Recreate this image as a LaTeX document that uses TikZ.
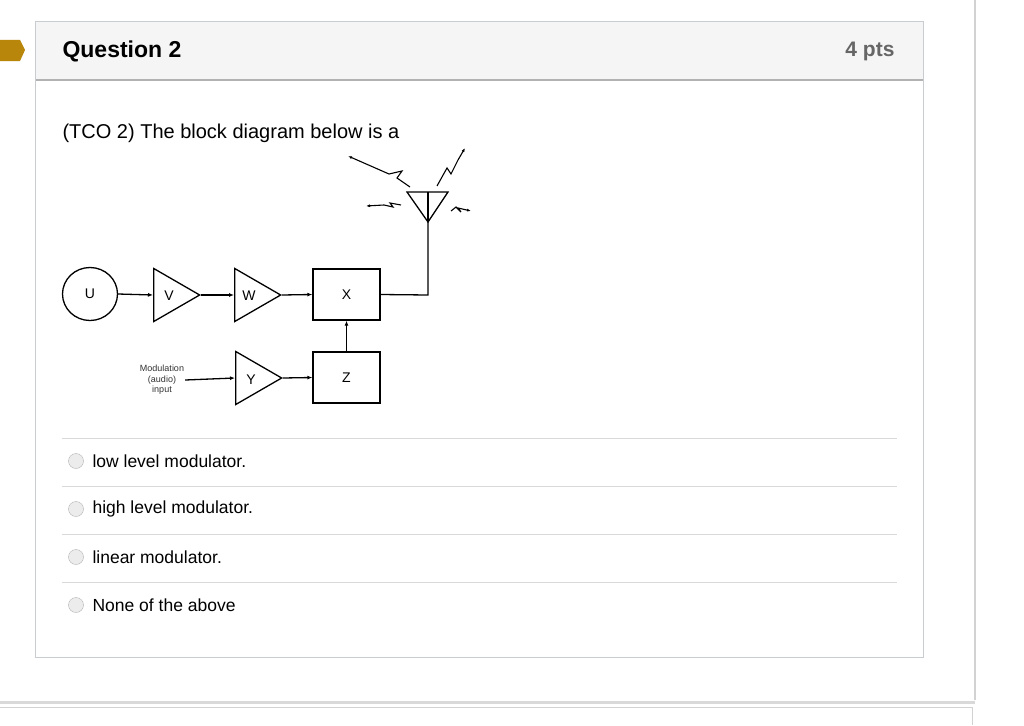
\documentclass[tikz,border=0pt]{standalone}
\usepackage{fontspec}
\setmainfont{Liberation Sans}
\usetikzlibrary{arrows.meta,shapes.geometric}
\definecolor{hdr}{HTML}{F5F5F5}
\definecolor{bord}{HTML}{C7CDD1}
\definecolor{gold}{HTML}{B8860B}
\begin{document}
\begin{tikzpicture}[x=1pt,y=-1pt,
  tri/.style={isosceles triangle,isosceles triangle apex angle=60,draw,line width=1.3pt,minimum height=46pt,inner sep=0pt},
  lbl/.style={font=\fontsize{14}{14}\selectfont,inner sep=0pt},
  box/.style={draw,line width=1.3pt,minimum width=67pt,minimum height=51pt,font=\fontsize{14}{14}\selectfont},
  con/.style={line width=1.3pt,-{Latex[length=5pt,width=4pt]}},
  radio/.style={circle,draw=gray!60,fill=gray!15,minimum size=15pt,inner sep=0pt},
  opt/.style={anchor=west,font=\fontsize{17.5}{19}\selectfont},
  sep/.style={draw=gray!30,line width=0.8pt},
  zz/.style={line width=1.1pt,-{Latex[length=4pt,width=3pt]}}]
\useasboundingbox (0,0) rectangle (1024,725);
\fill[white] (0,0) rectangle (1024,725);
% outer card
\draw[gray!35,line width=2pt] (975,0) -- (975,700);
\draw[gray!30,line width=3pt] (0,702) -- (975,702);
\draw[gray!35,line width=1pt] (0,707) -- (972,707) -- (972,725);
% question box
\fill[hdr] (35.5,22.5) rectangle (922.5,79);
\draw[gray!60,line width=1.2pt] (35,80) -- (923,80);
\draw[bord,line width=1pt] (35,22) rectangle (923,657);
\fill[gold] (0,40) -- (20,40) -- (25,50) -- (20,61) -- (0,61) -- cycle;
\node[anchor=west,font=\bfseries\fontsize{23}{25}\selectfont] (qt) at (59,51) {Question 2};
\node[anchor=east,text=gray!80!black,font=\bfseries\fontsize{21}{23}\selectfont] (pts) at (898,51) {4 pts};
\node[anchor=west,font=\fontsize{20}{22}\selectfont] (q) at (59,133) {(TCO 2) The block diagram below is a};
% diagram
\node[ellipse,draw,line width=1.3pt,minimum width=55pt,minimum height=53pt,font=\fontsize{14}{14}\selectfont] (U) at (90,294) {U};
\node[tri,anchor=west] (V) at (153,295) {};
\node[tri,anchor=west] (W) at (234,295) {};
\node[box] (X) at (346.5,294.5) {X};
\node[box] (Z) at (346.5,377.5) {Z};
\node[tri,anchor=west] (Y) at (235,378) {};
\node[lbl] (Vl) at (169,296) {V};
\node[lbl] (Wl) at (249,296) {W};
\node[lbl] (Yl) at (251,380) {Y};
\node[align=center,font=\fontsize{9}{10.5}\selectfont,text=black!80,inner sep=1pt] (M) at (162,380) {Modulation\\(audio)\\input};
\draw[con] (U.east) -- (V.west);
\draw[con] (V.apex) -- (W.west);
\draw[con] (W.apex) -- (X.west);
\draw[con] (Z.north) -- (X.south);
\draw[con] (Y.apex) -- (Z.west);
\draw[con] (M.east) -- (Y.west);
% antenna
\coordinate (ap) at (428,222);
\coordinate (al) at (407,192);
\coordinate (ar) at (448,192);
\coordinate (at) at (428,192);
\draw[line width=1.3pt] (al) -- (ar) -- (ap) -- cycle;
\draw[line width=1.3pt] (at) -- (ap);
\draw[line width=1.3pt] (X.east) -- (428,295) -- (ap);
% radiation zigzags
\draw[zz] (410,187) -- (397,178) -- (402,171) -- (389,174) -- (348,156);
\draw[zz] (437,186) -- (447,168) -- (451,174) -- (458,160) -- (465,148);
\draw[zz] (401,205) -- (390,203) -- (393,207) -- (384,205) -- (366,206);
\draw[zz] (451,211) -- (456,207) -- (461,212) -- (458,208) -- (471,211);
% options
\draw[sep] (62,438) -- (897,438);
\draw[sep] (62,486) -- (897,486);
\draw[sep] (62,534) -- (897,534);
\draw[sep] (62,582) -- (897,582);
\node[radio] (r1) at (76,461) {};
\node[radio] (r2) at (76,509) {};
\node[radio] (r3) at (76,557) {};
\node[radio] (r4) at (76,605) {};
\node[opt] (o1) at (89,461) {low level modulator.};
\node[opt] (o2) at (89,509) {high level modulator.};
\node[opt] (o3) at (89,557) {linear modulator.};
\node[opt] (o4) at (89,605) {None of the above};
\end{tikzpicture}
\end{document}
